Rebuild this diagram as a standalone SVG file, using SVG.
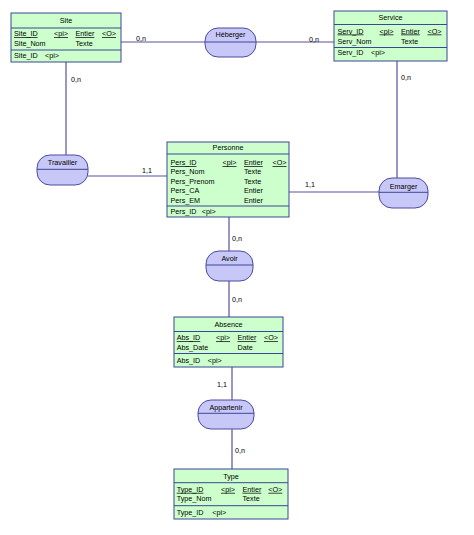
<svg xmlns="http://www.w3.org/2000/svg" width="474" height="535" viewBox="0 0 474 535">
<style>
text{font-family:"Liberation Sans",Arial,sans-serif;font-size:7.2px;fill:#000}
.t{text-anchor:middle}
.u{text-decoration:underline}
.ent{fill:#ccffcc;stroke:#3c4696;stroke-width:1}
.sep{stroke:#3c4696;stroke-width:1}
.asc{fill:#c8c8f8;stroke:#4a4aa0;stroke-width:1}
.ln{stroke:#5a50a0;stroke-width:1.2;fill:none}
</style>
<rect width="474" height="535" fill="#ffffff"/>
<g id="connectors">
<line class="ln" x1="66" y1="62" x2="66" y2="155"/>
<line class="ln" x1="121" y1="42" x2="205" y2="42"/>
<line class="ln" x1="256" y1="42" x2="334" y2="42"/>
<line class="ln" x1="397" y1="61" x2="397" y2="178"/>
<line class="ln" x1="88" y1="176" x2="167" y2="176"/>
<line class="ln" x1="289" y1="192" x2="379" y2="192"/>
<line class="ln" x1="229" y1="217" x2="229" y2="251"/>
<line class="ln" x1="229" y1="281" x2="229" y2="317"/>
<line class="ln" x1="232" y1="367" x2="232" y2="400"/>
<line class="ln" x1="232" y1="429" x2="232" y2="469"/>
<text x="141" y="41" class="t">0,n</text>
<text x="314" y="42" class="t">0,n</text>
<text x="76" y="82" class="t">0,n</text>
<text x="406" y="80" class="t">0,n</text>
<text x="147" y="173" class="t">1,1</text>
<text x="310" y="187" class="t">1,1</text>
<text x="237" y="241" class="t">0,n</text>
<text x="237" y="302" class="t">0,n</text>
<text x="222" y="387" class="t">1,1</text>
<text x="240" y="453" class="t">0,n</text>
</g>
<g id="Site">
<rect class="ent" x="11" y="13" width="110" height="49"/>
<line class="sep" x1="11" y1="28" x2="121" y2="28"/>
<line class="sep" x1="11" y1="50" x2="121" y2="50"/>
<text x="66" y="22.5" class="t">Site</text>
<text x="14" y="36" class="u">Site_ID</text>
<text x="54" y="36" class="u">&lt;pi&gt;</text>
<text x="75.5" y="36" class="u">Entier</text>
<text x="102" y="36" class="u">&lt;O&gt;</text>
<text x="14" y="45.5">Site_Nom</text>
<text x="75.5" y="45.5">Texte</text>
<text x="14" y="58">Site_ID</text>
<text x="45" y="58">&lt;pi&gt;</text>
</g>
<g id="Service">
<rect class="ent" x="334" y="11" width="113" height="50"/>
<line class="sep" x1="334" y1="24.5" x2="447" y2="24.5"/>
<line class="sep" x1="334" y1="47.5" x2="447" y2="47.5"/>
<text x="390.5" y="20" class="t">Service</text>
<text x="337.5" y="33.5" class="u">Serv_ID</text>
<text x="379.5" y="33.5" class="u">&lt;pi&gt;</text>
<text x="401" y="33.5" class="u">Entier</text>
<text x="427.5" y="33.5" class="u">&lt;O&gt;</text>
<text x="337.5" y="43.5">Serv_Nom</text>
<text x="401" y="43.5">Texte</text>
<text x="337.5" y="55">Serv_ID</text>
<text x="371" y="55">&lt;pi&gt;</text>
</g>
<g id="Personne">
<rect class="ent" x="167" y="142" width="122" height="75"/>
<line class="sep" x1="167" y1="154" x2="289" y2="154"/>
<line class="sep" x1="167" y1="206" x2="289" y2="206"/>
<text x="228" y="150" class="t">Personne</text>
<text x="170.5" y="165" class="u">Pers_ID</text>
<text x="222.5" y="165" class="u">&lt;pi&gt;</text>
<text x="244" y="165" class="u">Entier</text>
<text x="272.5" y="165" class="u">&lt;O&gt;</text>
<text x="170.5" y="174.2">Pers_Nom</text>
<text x="244" y="174.2">Texte</text>
<text x="170.5" y="183.7">Pers_Prenom</text>
<text x="244" y="183.7">Texte</text>
<text x="170.5" y="193.2">Pers_CA</text>
<text x="244" y="193.2">Entier</text>
<text x="170.5" y="202.5">Pers_EM</text>
<text x="244" y="202.5">Entier</text>
<text x="170.5" y="213.5">Pers_ID</text>
<text x="201.7" y="213.5">&lt;pi&gt;</text>
</g>
<g id="Absence">
<rect class="ent" x="174" y="317" width="109" height="50"/>
<line class="sep" x1="174" y1="331.5" x2="283" y2="331.5"/>
<line class="sep" x1="174" y1="353.5" x2="283" y2="353.5"/>
<text x="228.5" y="327" class="t">Absence</text>
<text x="176.7" y="340.3" class="u">Abs_ID</text>
<text x="216" y="340.3" class="u">&lt;pi&gt;</text>
<text x="237.5" y="340.3" class="u">Entier</text>
<text x="264" y="340.3" class="u">&lt;O&gt;</text>
<text x="176.7" y="349.8">Abs_Date</text>
<text x="237.5" y="349.8">Date</text>
<text x="176.7" y="362.6">Abs_ID</text>
<text x="207.7" y="362.6">&lt;pi&gt;</text>
</g>
<g id="Type">
<rect class="ent" x="174" y="469" width="114" height="50"/>
<line class="sep" x1="174" y1="482.7" x2="288" y2="482.7"/>
<line class="sep" x1="174" y1="505.7" x2="288" y2="505.7"/>
<text x="231" y="478.5" class="t">Type</text>
<text x="176.7" y="491.8" class="u">Type_ID</text>
<text x="221" y="491.8" class="u">&lt;pi&gt;</text>
<text x="242.5" y="491.8" class="u">Entier</text>
<text x="268.3" y="491.8" class="u">&lt;O&gt;</text>
<text x="176.7" y="501.2">Type_Nom</text>
<text x="242.5" y="501.2">Texte</text>
<text x="176.7" y="514.8">Type_ID</text>
<text x="212.3" y="514.8">&lt;pi&gt;</text>
</g>
<g id="Heberger">
<rect class="asc" x="205" y="28" width="51" height="29" rx="13" ry="13"/>
<line class="sep" x1="205" y1="42" x2="256" y2="42"/>
<text x="230.5" y="37" class="t">Héberger</text>
</g>
<g id="Travailler">
<rect class="asc" x="37" y="155" width="51" height="30" rx="13" ry="13"/>
<line class="sep" x1="37" y1="169.3" x2="88" y2="169.3"/>
<text x="62.5" y="165" class="t">Travailler</text>
</g>
<g id="Emarger">
<rect class="asc" x="379" y="178" width="49" height="30" rx="13" ry="13"/>
<line class="sep" x1="379" y1="192.3" x2="428" y2="192.3"/>
<text x="403.5" y="188.5" class="t">Emarger</text>
</g>
<g id="Avoir">
<rect class="asc" x="206" y="251" width="47" height="30" rx="13" ry="13"/>
<line class="sep" x1="206" y1="265" x2="253" y2="265"/>
<text x="229.5" y="261" class="t">Avoir</text>
</g>
<g id="Appartenir">
<rect class="asc" x="198" y="400" width="56" height="29" rx="13" ry="13"/>
<line class="sep" x1="198" y1="413.3" x2="254" y2="413.3"/>
<text x="226" y="410" class="t">Appartenir</text>
</g>
</svg>
